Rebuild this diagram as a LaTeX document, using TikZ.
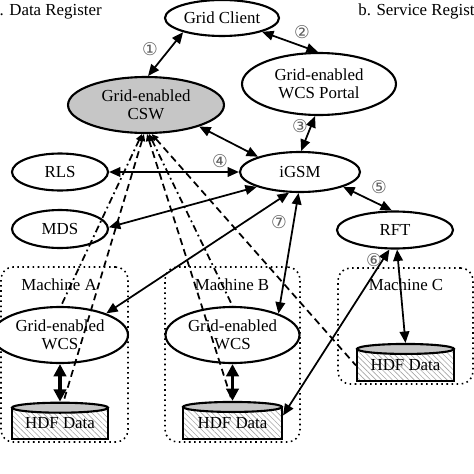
\documentclass[tikz,border=0pt]{standalone}
\usepackage{fontspec}
\setmainfont{Liberation Serif}
\newfontfamily\dvs{DejaVu Sans}
\usetikzlibrary{shapes.geometric,arrows.meta,patterns.meta}
\begin{document}
\begin{tikzpicture}[x=0.02cm,y=-0.02cm,
  font=\fontsize{9.6}{10.5}\selectfont,
  ell/.style={ellipse,draw,line width=1.2pt,inner sep=0pt,align=center,fill=white},
  hdf/.style={rectangle,draw,line width=1.2pt,inner sep=0pt,minimum width=#1,minimum height=6.2mm,
    pattern={Lines[angle=-45,distance=2.2pt,line width=0.35pt]},pattern color=gray!70},
  hdftop/.style={ellipse,draw,line width=1.2pt,inner sep=0pt,minimum width=#1,minimum height=2mm,fill=gray!45},
  machine/.style={rectangle,rounded corners=7pt,draw,dotted,line width=0.9pt},
  conn/.style={line width=1pt,{Triangle[length=6.5pt,width=5.5pt]}-{Triangle[length=6.5pt,width=5.5pt]}},
  thicktwo/.style={line width=2.2pt,{Triangle[length=7pt,width=7pt]}-{Triangle[length=7pt,width=7pt]}},
  dsh/.style={line width=1pt,dash pattern=on 4pt off 2.5pt,{Triangle[length=4pt,width=3.5pt]}-},
  dshdot/.style={line width=1pt,dash pattern=on 4pt off 2pt on 1pt off 2pt,{Triangle[length=4pt,width=3.5pt]}-},
  num/.style={font=\dvs\fontsize{10}{10}\selectfont,text=gray!75!black,inner sep=0pt}
]
\useasboundingbox (0,0) rectangle (474,474);
\clip (0,0) rectangle (474,474);
\fill[white] (0,0) rectangle (474,474);

% titles
\node[anchor=base east,inner sep=0pt] (ta) at (102,15) {a. Data Register};
\node[anchor=base west,inner sep=0pt] (tb) at (358,15) {b. Service Register};

% machine boxes
\node[machine,minimum width=25.4mm,minimum height=35mm] (boxA) at (64.5,354.5) {};
\node[machine,minimum width=27mm,minimum height=35mm] (boxB) at (232.5,354.5) {};
\node[machine,minimum width=27mm,minimum height=23.2mm] (boxC) at (405.5,326) {};
\node (labA) at (59,285) {Machine A};
\node (labB) at (232,285) {Machine B};
\node (labC) at (406,285) {Machine C};

% ellipses
\node[ell,minimum width=22.8mm,minimum height=7.2mm] (client) at (222,18) {Grid Client};
\node[ell,fill=gray!45,minimum width=31.2mm,minimum height=11.2mm] (csw) at (146,105) {Grid-enabled\\CSW};
\node[ell,minimum width=30.8mm,minimum height=12.4mm] (portal) at (319,84) {Grid-enabled\\WCS Portal};
\node[ell,minimum width=19.2mm,minimum height=7.4mm] (rls) at (60,172) {RLS};
\node[ell,minimum width=19.2mm,minimum height=7.6mm] (mds) at (60,229) {MDS};
\node[ell,minimum width=24mm,minimum height=8mm] (igsm) at (300,172) {iGSM};
\node[ell,minimum width=23.2mm,minimum height=7.4mm] (rft) at (395,230) {RFT};
\node[ell,minimum width=27.2mm,minimum height=11.2mm] (wcsA) at (60,335) {Grid-enabled\\WCS};
\node[ell,minimum width=26.8mm,minimum height=11.2mm] (wcsB) at (232.5,335) {Grid-enabled\\WCS};

% HDF data cylinders
\node[hdf=19.2mm] (hdfA) at (60,423.5) {HDF Data};
\node[hdftop=19.2mm] (hdfAtop) at (hdfA.north) {};
\node[hdf=19.8mm] (hdfB) at (232.5,423.5) {HDF Data};
\node[hdftop=19.8mm] (hdfBtop) at (hdfB.north) {};
\node[hdf=19.4mm] (hdfC) at (405.5,365.5) {HDF Data};
\node[hdftop=19.4mm] (hdfCtop) at (hdfC.north) {};

% solid connectors
\draw[conn] (client.200) -- (csw.86);
\draw[conn] (client.341) -- (portal.92);
\draw[conn] (portal.263) -- (igsm.87);
\draw[conn] (csw.338) -- (igsm.160);
\draw[conn] (rls.east) -- (igsm.west);
\draw[conn] (mds.2) -- (igsm.199);
\draw[conn] (igsm.341) -- (rft.99);
\draw[conn] (igsm.242) -- (wcsA.25);
\draw[conn] (igsm.266) -- (wcsB.25);
\draw[conn] (rft.276) -- (hdfCtop.north);
\draw[conn] (rft.254) -- (hdfB.9);
\draw[thicktwo] (wcsA.south) -- (hdfAtop.north);
\draw[thicktwo] (wcsB.south) -- (hdfBtop.north);

% dashed connectors
\draw[dshdot] (csw.262) -- (wcsA.88);
\draw[dsh] (csw.266) -- (hdfAtop.60);
\draw[dsh] (csw.272) -- (hdfBtop.95);
\draw[dshdot] (csw.276) -- (wcsB.90);
\draw[dsh] (csw.281) -- (hdfC.west);

% step numbers
\node[num] (n1) at (150,49) {①};
\node[num] (n2) at (302,32) {②};
\node[num] (n3) at (300,126) {③};
\node[num] (n4) at (220,161) {④};
\node[num] (n5) at (379,187) {⑤};
\node[num] (n6) at (374,260) {⑥};
\node[num] (n7) at (279,222) {⑦};
\end{tikzpicture}
\end{document}
